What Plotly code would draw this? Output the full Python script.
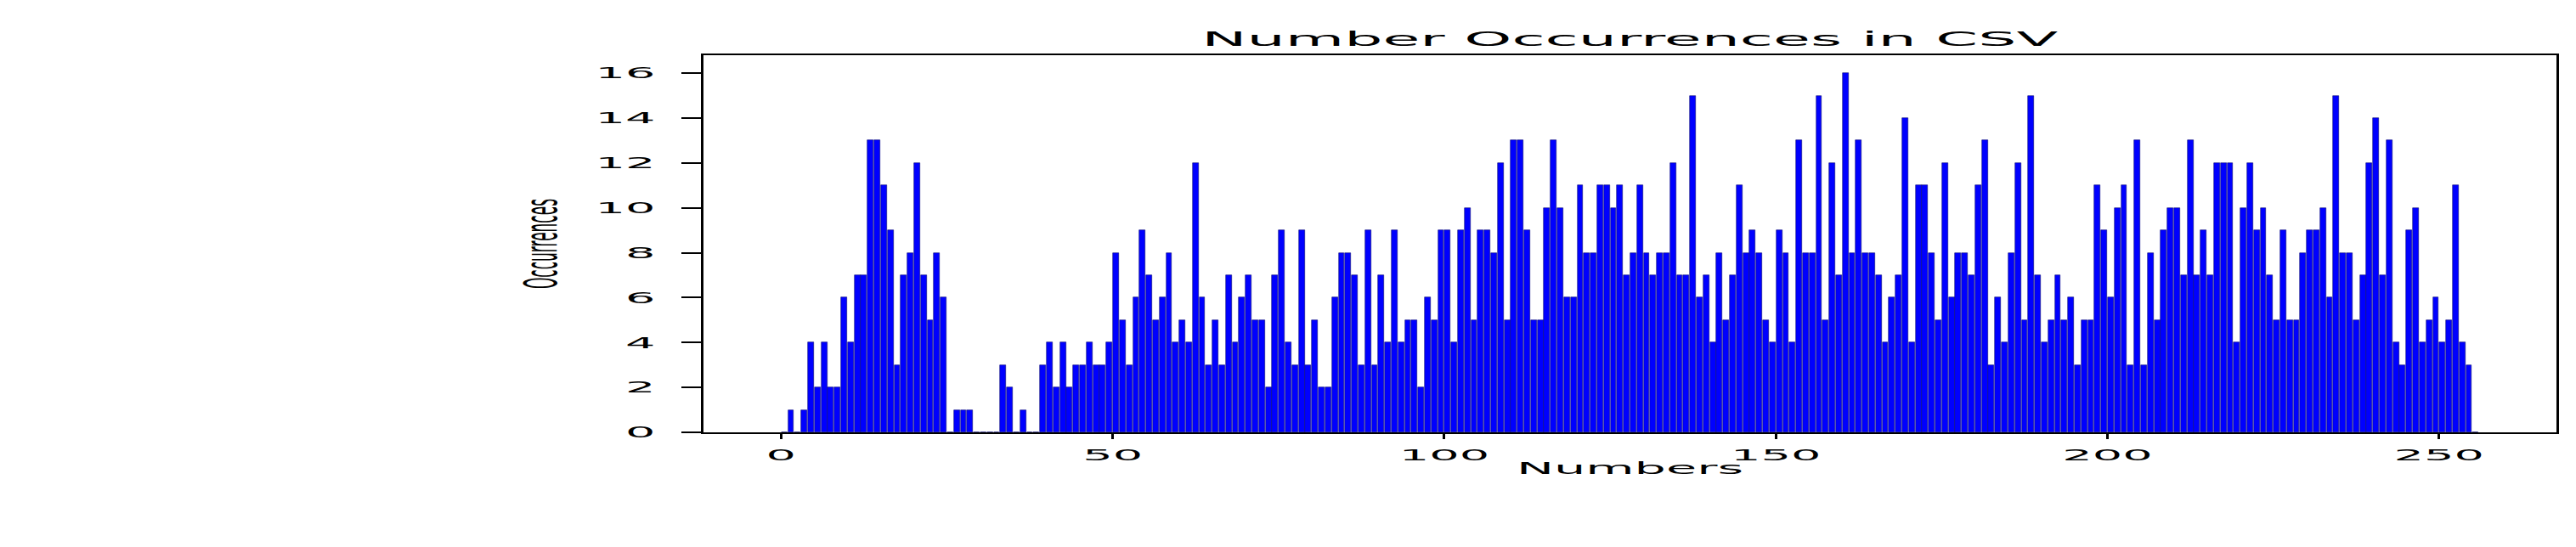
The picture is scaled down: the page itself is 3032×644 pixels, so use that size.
import plotly.graph_objects as go

# ---- data ----
numbers = list(range(256))
occurrences = [
    0, 1, 0, 1, 4, 2, 4, 2, 2, 6,      # 0-9
    4, 7, 7, 13, 13, 11, 9, 3, 7, 8,   # 10-19
    12, 7, 5, 8, 6, 0, 1, 1, 1, 0,     # 20-29
    0, 0, 0, 3, 2, 0, 1, 0, 0, 3,      # 30-39
    4, 2, 4, 2, 3, 3, 4, 3, 3, 4,      # 40-49
    8, 5, 3, 6, 9, 7, 5, 6, 8, 4,      # 50-59
    5, 4, 12, 6, 3, 5, 3, 7, 4, 6,     # 60-69
    7, 5, 5, 2, 7, 9, 4, 3, 9, 3,      # 70-79
    5, 2, 2, 6, 8, 8, 7, 3, 9, 3,      # 80-89
    7, 4, 9, 4, 5, 5, 2, 6, 5, 9,      # 90-99
    9, 4, 9, 10, 5, 9, 9, 8, 12, 5,    # 100-109
    13, 13, 9, 5, 5, 10, 13, 10, 6, 6, # 110-119
    11, 8, 8, 11, 11, 10, 11, 7, 8, 11,# 120-129
    8, 7, 8, 8, 12, 7, 7, 15, 6, 7,    # 130-139
    4, 8, 5, 7, 11, 8, 9, 8, 5, 4,     # 140-149
    9, 8, 4, 13, 8, 8, 15, 5, 12, 7,   # 150-159
    16, 8, 13, 8, 8, 7, 4, 6, 7, 14,   # 160-169
    4, 11, 11, 8, 5, 12, 6, 8, 8, 7,   # 170-179
    11, 13, 3, 6, 4, 8, 12, 5, 15, 7,  # 180-189
    4, 5, 7, 5, 6, 3, 5, 5, 11, 9,     # 190-199
    6, 10, 11, 3, 13, 3, 8, 5, 9, 10,  # 200-209
    10, 7, 13, 7, 9, 7, 12, 12, 12, 4, # 210-219
    10, 12, 9, 10, 7, 5, 9, 5, 5, 8,   # 220-229
    9, 9, 10, 6, 15, 8, 8, 5, 7, 12,   # 230-239
    14, 7, 13, 4, 3, 9, 10, 4, 5, 6,   # 240-249
    4, 5, 11, 4, 3, 0                  # 250-255
]
x_ticks = [0, 50, 100, 150, 200, 250]
y_ticks = [0, 2, 4, 6, 8, 10, 12, 14, 16]

title_text = "Number Occurrences in CSV"
x_title = "Numbers"
y_title = "Occurrences"

FONT = "DejaVu Sans"

fig = go.Figure(
    go.Bar(
        x=numbers,
        y=occurrences,
        width=0.88,
        offset=0.06,
        marker=dict(color="#0000ff", line=dict(color="#0b0b70", width=0.6)),
        hoverinfo="x+y",
    )
)

fig.update_layout(
    width=3032,
    height=644,
    margin=dict(l=820, r=31, t=57, b=143, pad=0),
    plot_bgcolor="white",
    paper_bgcolor="white",
    showlegend=False,
    bargap=0,
    font=dict(family=FONT, color="black"),
    title=dict(
        text=title_text,
        x=0.5,
        xref="paper",
        xanchor="center",
        y=1 - 38 / 644,
        yref="container",
        yanchor="middle",
        font=dict(family=FONT, size=23, color="black"),
    ),
)

fig.update_xaxes(
    range=[-11.7, 267.7],
    tickmode="array",
    tickvals=x_ticks,
    ticks="outside",
    ticklen=6,
    tickwidth=3,
    tickcolor="black",
    showline=True,
    mirror=True,
    linecolor="black",
    linewidth=2,
    showgrid=False,
    zeroline=False,
    tickfont=dict(family=FONT, size=18, color="black"),
    ticklabelstandoff=3,
    title=dict(text=x_title, font=dict(family=FONT, size=19, color="black"), standoff=0),
)

fig.update_yaxes(
    range=[0, 16.8],
    tickmode="array",
    tickvals=y_ticks,
    ticks="outside",
    ticklen=23,
    tickwidth=2,
    tickcolor="black",
    showline=True,
    mirror=True,
    linecolor="black",
    linewidth=3,
    showgrid=False,
    zeroline=False,
    tickfont=dict(family=FONT, size=18, color="black"),
    ticklabelstandoff=27,
    title=dict(text=y_title, font=dict(family=FONT, size=17, color="black"), standoff=102),
)

# The reference image is stretched horizontally; stretch the text the same way.
post_js = """
var gd = document.getElementById('{plot_id}');
var SX = 3.1;
function st(el, anchor) {
  if (!el || el.getAttribute('data-stretched')) return;
  var bb = el.getBBox();
  var lx = bb.x + anchor * bb.width, ly = bb.y + bb.height / 2;
  var px = lx, py = ly;
  var tl = el.transform.baseVal;
  if (tl && tl.numberOfItems > 0) {
    var m = tl.consolidate().matrix;
    px = m.a * lx + m.c * ly + m.e;
    py = m.b * lx + m.d * ly + m.f;
  }
  var orig = el.getAttribute('transform') || '';
  el.setAttribute('transform', 'translate(' + px + ',' + py + ') scale(' + SX + ',1) translate(' + (-px) + ',' + (-py) + ') ' + orig);
  el.setAttribute('data-stretched', '1');
}
gd.querySelectorAll('g.xtick text').forEach(function (e) { st(e, 0.5); });
gd.querySelectorAll('g.ytick text').forEach(function (e) { st(e, 1.0); });
gd.querySelectorAll('text.gtitle').forEach(function (e) { st(e, 0.5); });
gd.querySelectorAll('text.xtitle').forEach(function (e) { st(e, 0.5); });
gd.querySelectorAll('text.ytitle').forEach(function (e) { st(e, 0.5); });
"""

fig.write_html("out.html", post_script=post_js, config={"displayModeBar": False})
